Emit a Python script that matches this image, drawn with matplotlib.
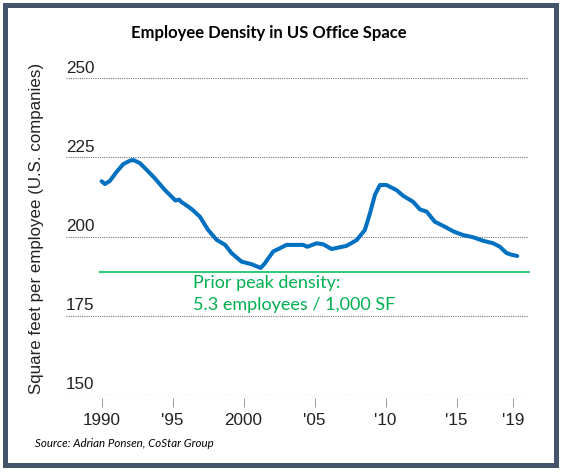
import matplotlib
matplotlib.use('Agg')
import matplotlib.pyplot as plt
import matplotlib.transforms as mtransforms
from matplotlib.patches import Rectangle

# Office space per employee
years = [1990.0, 1990.23, 1990.58, 1991.06, 1991.52, 1992.0, 1992.23, 1992.7,
         1993.17, 1993.75, 1994.46, 1995.2, 1995.45, 1995.6, 1995.87, 1996.34,
         1996.92, 1997.5, 1998.1, 1998.7, 1999.15, 1999.86, 2000.56, 2001.2,
         2001.5, 2002.08, 2003.03, 2004.2, 2004.48, 2005.14, 2005.6, 2006.2,
         2007.25, 2007.96, 2008.54, 2008.9, 2009.25, 2009.6, 2010.07, 2010.77,
         2011.24, 2011.94, 2012.42, 2012.89, 2013.47, 2014.06, 2014.8, 2015.46,
         2016.17, 2016.87, 2017.58, 2018.05, 2018.52, 2018.87, 2019.27]
sqft = [217.5, 216.6, 217.6, 220.5, 222.9, 224.0, 224.2, 223.2,
        221.1, 218.4, 214.7, 211.4, 211.7, 211.0, 210.2, 208.7,
        206.3, 202.1, 199.0, 197.4, 194.8, 192.1, 191.3, 190.1,
        191.6, 195.3, 197.4, 197.4, 196.8, 197.9, 197.6, 196.1,
        197.1, 198.9, 202.1, 207.4, 213.2, 216.3, 216.3, 214.7,
        212.9, 211.0, 208.6, 207.9, 204.7, 203.4, 201.6, 200.5,
        199.8, 198.7, 197.9, 196.8, 194.8, 194.3, 193.9]

prior_peak = 188.7  # 5.3 employees / 1,000 SF

yticks = [150, 175, 200, 225, 250]
xticks = [1990, 1995, 2000, 2005, 2010, 2015, 2019]
xlabels = ['1990', "'95", '2000', "'05", "'10", "'15", "'19"]

narrow = ['Liberation Sans Narrow', 'Liberation Sans', 'DejaVu Sans']
calib = ['Lato', 'DejaVu Sans']

fig = plt.figure(figsize=(5.62, 4.72), dpi=100)
ax = fig.add_axes([66/562, 77/472, 462/562, 316.7/472])

ax.set_xlim(1987.49, 2020.03)
ax.set_ylim(150, 250)

# dotted horizontal gridlines
for v in yticks:
    ax.axhline(v, color='#777777', linestyle=(0, (1, 1)), linewidth=0.8, zorder=1)

ax.plot(years, sqft, color='#0070C0', linewidth=2.9, solid_capstyle='round',
        solid_joinstyle='round', zorder=3, clip_on=False)
ax.hlines(prior_peak, 1989.8, 2020.2, color='#1DC46A', linewidth=1.3, zorder=2, clip_on=False)

ax.text(1996.46, 185.3, 'Prior peak density:', color='#00B050', fontsize=13,
        family=calib, va='center', ha='left')
ax.text(1996.46, 178.4, '5.3 employees / 1,000 SF', color='#00B050', fontsize=13,
        family=calib, va='center', ha='left')

# y labels sit above each gridline
trans = mtransforms.offset_copy(ax.get_yaxis_transform(), fig=fig, x=0, y=4, units='points')
for v in yticks:
    ax.text(0, v, str(v), transform=trans, ha='left', va='baseline',
            fontsize=12.3, family=narrow, color='#222222')

for s in ax.spines.values():
    s.set_visible(False)
ax.spines['bottom'].set_position(('outward', 2.2))
ax.set_yticks([])
ax.set_xticks(xticks)
ax.set_xticklabels(xlabels, family=narrow, fontsize=12.3, color='#222222')
ax.tick_params(axis='x', direction='out', length=6.5, width=0.7, color='#999999', pad=4.3)

fig.text(36.7/562, (472-228)/472, 'Square feet per employee (U.S. companies)',
         rotation=90, ha='center', va='center', fontsize=12.2,
         family=['Liberation Sans', 'DejaVu Sans'], color='#222222')
fig.text(269/562, (472-33)/472, 'Employee Density in US Office Space',
         ha='center', va='center', fontsize=12.0, fontweight='bold', family=calib)
fig.text(35/562, (472-443.3)/472, 'Source: Adrian Ponsen, CoStar Group',
         ha='left', va='center', fontsize=8.3, style='italic', family=calib)

# frame around the whole graphic
fig.patches.append(Rectangle((4.5/562, (472-464.5)/472), 551.5/562, 459.5/472,
                             transform=fig.transFigure, fill=False,
                             edgecolor='#44546A', linewidth=3.6))

fig.savefig('out.png', dpi=100)
